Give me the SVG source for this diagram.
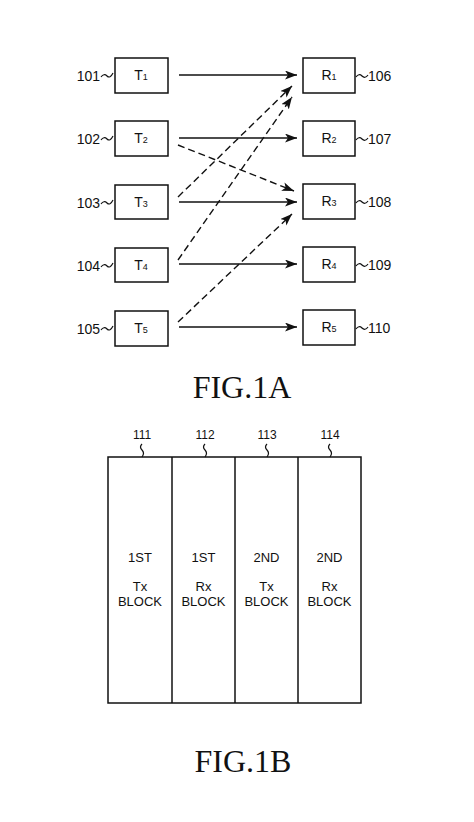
<svg xmlns="http://www.w3.org/2000/svg" width="474" height="822" viewBox="0 0 474 822">
<defs>
<style>
.box{fill:#fff;stroke:#111;stroke-width:1.5}
.ln{fill:none;stroke:#111;stroke-width:1.5}
.dash{fill:none;stroke:#111;stroke-width:1.4;stroke-dasharray:7 4}
.sq{fill:none;stroke:#111;stroke-width:1.2}
.t{font-family:"Liberation Sans",Arial,sans-serif;font-size:14px;fill:#111}
.c{font-family:"Liberation Sans",Arial,sans-serif;font-size:13px;fill:#111;text-anchor:middle}
.n{font-family:"Liberation Sans",Arial,sans-serif;font-size:12px;fill:#111;text-anchor:middle}
.sub{font-size:9px}
.fig{font-family:"Liberation Serif","Times New Roman",serif;font-size:32px;fill:#111;text-anchor:middle}
</style>
<marker id="ah" markerUnits="userSpaceOnUse" markerWidth="13" markerHeight="10" refX="12" refY="4.5" orient="auto">
<path d="M0,0 L12,4.5 L0,9 L3,4.5 z" fill="#111"/>
</marker>
</defs>
<rect width="474" height="822" fill="#fff"/>

<g id="T1"><rect class="box" x="115" y="58" width="53" height="35"/><text class="t" x="141" y="80" text-anchor="middle">T<tspan class="sub">1</tspan></text><path class="sq" d="M101,77 q3,-4 6,-1 t6,-3"/><text class="t" x="100" y="81" text-anchor="end">101</text></g>
<g id="T2"><rect class="box" x="115" y="121" width="53" height="35"/><text class="t" x="141" y="143" text-anchor="middle">T<tspan class="sub">2</tspan></text><path class="sq" d="M101,140 q3,-4 6,-1 t6,-3"/><text class="t" x="100" y="144" text-anchor="end">102</text></g>
<g id="T3"><rect class="box" x="115" y="185" width="53" height="34"/><text class="t" x="141" y="207" text-anchor="middle">T<tspan class="sub">3</tspan></text><path class="sq" d="M101,204 q3,-4 6,-1 t6,-3"/><text class="t" x="100" y="208" text-anchor="end">103</text></g>
<g id="T4"><rect class="box" x="115" y="248" width="53" height="34"/><text class="t" x="141" y="270" text-anchor="middle">T<tspan class="sub">4</tspan></text><path class="sq" d="M101,267 q3,-4 6,-1 t6,-3"/><text class="t" x="100" y="271" text-anchor="end">104</text></g>
<g id="T5"><rect class="box" x="115" y="311" width="53" height="35"/><text class="t" x="141" y="333" text-anchor="middle">T<tspan class="sub">5</tspan></text><path class="sq" d="M101,330 q3,-4 6,-1 t6,-3"/><text class="t" x="100" y="334" text-anchor="end">105</text></g>

<g id="R1"><rect class="box" x="303" y="58" width="52" height="35"/><text class="t" x="329" y="80" text-anchor="middle">R<tspan class="sub">1</tspan></text><path class="sq" d="M356,77 q3,-4 6,-1 t6,-1"/><text class="t" x="368" y="81">106</text></g>
<g id="R2"><rect class="box" x="303" y="121" width="52" height="35"/><text class="t" x="329" y="143" text-anchor="middle">R<tspan class="sub">2</tspan></text><path class="sq" d="M356,140 q3,-4 6,-1 t6,-1"/><text class="t" x="368" y="144">107</text></g>
<g id="R3"><rect class="box" x="303" y="184" width="52" height="35"/><text class="t" x="329" y="206" text-anchor="middle">R<tspan class="sub">3</tspan></text><path class="sq" d="M356,203 q3,-4 6,-1 t6,-1"/><text class="t" x="368" y="207">108</text></g>
<g id="R4"><rect class="box" x="303" y="247" width="52" height="35"/><text class="t" x="329" y="269" text-anchor="middle">R<tspan class="sub">4</tspan></text><path class="sq" d="M356,266 q3,-4 6,-1 t6,-1"/><text class="t" x="368" y="270">109</text></g>
<g id="R5"><rect class="box" x="303" y="310" width="52" height="35"/><text class="t" x="329" y="332" text-anchor="middle">R<tspan class="sub">5</tspan></text><path class="sq" d="M356,329 q3,-4 6,-1 t6,-1"/><text class="t" x="368" y="333">110</text></g>

<g id="connectors">
<line class="ln" x1="179" y1="75" x2="297" y2="75" marker-end="url(#ah)"/>
<line class="ln" x1="179" y1="138" x2="297" y2="138" marker-end="url(#ah)"/>
<line class="ln" x1="179" y1="202" x2="297" y2="202" marker-end="url(#ah)"/>
<line class="ln" x1="179" y1="264" x2="297" y2="264" marker-end="url(#ah)"/>
<line class="ln" x1="179" y1="327" x2="297" y2="327" marker-end="url(#ah)"/>
<line class="dash" x1="178" y1="145" x2="294" y2="191" marker-end="url(#ah)"/>
<line class="dash" x1="178" y1="197" x2="292" y2="86" marker-end="url(#ah)"/>
<line class="dash" x1="178" y1="260" x2="292" y2="97" marker-end="url(#ah)"/>
<line class="dash" x1="178" y1="322" x2="292" y2="214" marker-end="url(#ah)"/>
</g>

<text class="fig" x="242" y="398">FIG.1A</text>

<g id="blocks">
<rect class="box" x="108" y="457" width="253" height="246"/>
<line class="ln" x1="172" y1="457" x2="172" y2="703"/>
<line class="ln" x1="235" y1="457" x2="235" y2="703"/>
<line class="ln" x1="298" y1="457" x2="298" y2="703"/>
</g>
<g id="B111"><text class="n" x="142" y="439">111</text><path class="sq" d="M142,444 q-3,3 0,6 t0,7"/><text class="c" x="140" y="562">1ST</text><text class="c" x="140" y="591">Tx</text><text class="c" x="140" y="606">BLOCK</text></g>
<g id="B112"><text class="n" x="205" y="439">112</text><path class="sq" d="M205,444 q-3,3 0,6 t0,7"/><text class="c" x="203.5" y="562">1ST</text><text class="c" x="203.5" y="591">Rx</text><text class="c" x="203.5" y="606">BLOCK</text></g>
<g id="B113"><text class="n" x="267" y="439">113</text><path class="sq" d="M267,444 q-3,3 0,6 t0,7"/><text class="c" x="266.5" y="562">2ND</text><text class="c" x="266.5" y="591">Tx</text><text class="c" x="266.5" y="606">BLOCK</text></g>
<g id="B114"><text class="n" x="330" y="439">114</text><path class="sq" d="M330,444 q-3,3 0,6 t0,7"/><text class="c" x="329.5" y="562">2ND</text><text class="c" x="329.5" y="591">Rx</text><text class="c" x="329.5" y="606">BLOCK</text></g>

<text class="fig" x="243" y="772">FIG.1B</text>
</svg>
